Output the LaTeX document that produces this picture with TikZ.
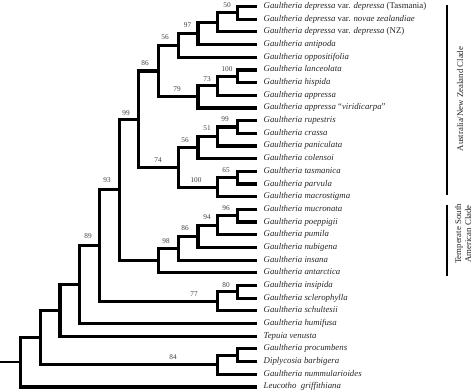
\documentclass[tikz,border=0pt]{standalone}
\usepackage{fontspec}
\setmainfont{Liberation Serif}
\newcommand{\lx}[1]{257-19.7*#1}
\newcommand{\ry}[1]{6.5+12.68*#1}
\begin{document}
\begin{tikzpicture}[x=1pt,y=-1pt,
  br/.style={line width=3.2pt, line join=miter},
  stubline/.style={line width=1.5pt},
  bar/.style={line width=2pt},
  taxon/.style={anchor=west, inner xsep=6.5pt, inner ysep=0pt, text height=6pt, text depth=2pt,
    font=\fontsize{8.8}{10}\selectfont\itshape, text=black!85},
  bs/.style={font=\fontsize{7.3}{8}\selectfont, text=black!75, inner sep=0pt},
  cladelab/.style={rotate=90, align=center, font=\fontsize{8.8}{10}\selectfont, text=black!85, inner sep=0pt}]
\useasboundingbox (0,0) rectangle (474,391);
% taxa
\node[taxon] (t0) at (257,{\ry{0}}) {Gaultheria depressa \textup{var.} depressa \textup{(Tasmania)}};
\node[taxon] (t1) at (257,{\ry{1}}) {Gaultheria depressa \textup{var.} novae zealandiae};
\node[taxon] (t2) at (257,{\ry{2}}) {Gaultheria depressa \textup{var.} depressa \textup{(NZ)}};
\node[taxon] (t3) at (257,{\ry{3}}) {Gaultheria antipoda};
\node[taxon] (t4) at (257,{\ry{4}}) {Gaultheria oppositifolia};
\node[taxon] (t5) at (257,{\ry{5}}) {Gaultheria lanceolata};
\node[taxon] (t6) at (257,{\ry{6}}) {Gaultheria hispida};
\node[taxon] (t7) at (257,{\ry{7}}) {Gaultheria appressa};
\node[taxon] (t8) at (257,{\ry{8}}) {Gaultheria appressa \textup{``}viridicarpa\textup{''}};
\node[taxon] (t9) at (257,{\ry{9}}) {Gaultheria rupestris};
\node[taxon] (t10) at (257,{\ry{10}}) {Gaultheria crassa};
\node[taxon] (t11) at (257,{\ry{11}}) {Gaultheria paniculata};
\node[taxon] (t12) at (257,{\ry{12}}) {Gaultheria colensoi};
\node[taxon] (t13) at (257,{\ry{13}}) {Gaultheria tasmanica};
\node[taxon] (t14) at (257,{\ry{14}}) {Gaultheria parvula};
\node[taxon] (t15) at (257,{\ry{15}}) {Gaultheria macrostigma};
\node[taxon] (t16) at (257,{\ry{16}}) {Gaultheria mucronata};
\node[taxon] (t17) at (257,{\ry{17}}) {Gaultheria poeppigii};
\node[taxon] (t18) at (257,{\ry{18}}) {Gaultheria pumila};
\node[taxon] (t19) at (257,{\ry{19}}) {Gaultheria nubigena};
\node[taxon] (t20) at (257,{\ry{20}}) {Gaultheria insana};
\node[taxon] (t21) at (257,{\ry{21}}) {Gaultheria antarctica};
\node[taxon] (t22) at (257,{\ry{22}}) {Gaultheria insipida};
\node[taxon] (t23) at (257,{\ry{23}}) {Gaultheria sclerophylla};
\node[taxon] (t24) at (257,{\ry{24}}) {Gaultheria schultesii};
\node[taxon] (t25) at (257,{\ry{25}}) {Gaultheria humifusa};
\node[taxon] (t26) at (257,{\ry{26}}) {Tepuia venusta};
\node[taxon] (t27) at (257,{\ry{27}}) {Gaultheria procumbens};
\node[taxon] (t28) at (257,{\ry{28}}) {Diplycosia barbigera};
\node[taxon] (t29) at (257,{\ry{29}}) {Gaultheria nummularioides};
\node[taxon] (t30) at (257,{\ry{30}}) {Leucotho\enspace griffithiana};
% internal nodes
\coordinate (A) at ({\lx{1}},{\ry{0.5}});
\coordinate (B) at ({\lx{2}},{\ry{1.25}});
\coordinate (C) at ({\lx{3}},{\ry{2.125}});
\coordinate (D) at ({\lx{4}},{\ry{3.0625}});
\coordinate (H) at ({\lx{1}},{\ry{5.5}});
\coordinate (G) at ({\lx{2}},{\ry{6.25}});
\coordinate (F) at ({\lx{3}},{\ry{7.125}});
\coordinate (E) at ({\lx{5}},{\ry{5.09375}});
\coordinate (I) at ({\lx{1}},{\ry{9.5}});
\coordinate (J) at ({\lx{2}},{\ry{10.25}});
\coordinate (K) at ({\lx{3}},{\ry{11.125}});
\coordinate (L) at ({\lx{1}},{\ry{13.5}});
\coordinate (M) at ({\lx{2}},{\ry{14.25}});
\coordinate (N) at ({\lx{4}},{\ry{12.6875}});
\coordinate (P) at ({\lx{6}},{\ry{8.890625}});
\coordinate (T) at ({\lx{1}},{\ry{16.5}});
\coordinate (U) at ({\lx{2}},{\ry{17.25}});
\coordinate (V) at ({\lx{3}},{\ry{18.125}});
\coordinate (W) at ({\lx{4}},{\ry{19.0625}});
\coordinate (X) at ({\lx{5}},{\ry{20.03125}});
\coordinate (Q) at ({\lx{7}},{\ry{14.4609375}});
\coordinate (Z) at ({\lx{1}},{\ry{22.5}});
\coordinate (Y) at ({\lx{2}},{\ry{23.25}});
\coordinate (R) at ({\lx{8}},{\ry{18.85546875}});
\coordinate (AA) at ({\lx{9}},{\ry{21.927734375}});
\coordinate (BB) at ({\lx{10}},{\ry{23.9638671875}});
\coordinate (EE) at ({\lx{1}},{\ry{27.5}});
\coordinate (DD) at ({\lx{2}},{\ry{28.25}});
\coordinate (CC) at ({\lx{11}},{\ry{26.10693359375}});
\coordinate (root) at ({\lx{12}},{\ry{28.053466796875}});
\coordinate (stub) at (0,{\ry{28.053466796875}});
% branches
\draw[br] (A) |- (t0.west); \draw[br] (A) |- (t1.west);
\draw[br] (B) |- (A); \draw[br] (B) |- (t2.west);
\draw[br] (C) |- (B); \draw[br] (C) |- (t3.west);
\draw[br] (D) |- (C); \draw[br] (D) |- (t4.west);
\draw[br] (H) |- (t5.west); \draw[br] (H) |- (t6.west);
\draw[br] (G) |- (H); \draw[br] (G) |- (t7.west);
\draw[br] (F) |- (G); \draw[br] (F) |- (t8.west);
\draw[br] (E) |- (D); \draw[br] (E) |- (F);
\draw[br] (I) |- (t9.west); \draw[br] (I) |- (t10.west);
\draw[br] (J) |- (I); \draw[br] (J) |- (t11.west);
\draw[br] (K) |- (J); \draw[br] (K) |- (t12.west);
\draw[br] (L) |- (t13.west); \draw[br] (L) |- (t14.west);
\draw[br] (M) |- (L); \draw[br] (M) |- (t15.west);
\draw[br] (N) |- (K); \draw[br] (N) |- (M);
\draw[br] (P) |- (E); \draw[br] (P) |- (N);
\draw[br] (T) |- (t16.west); \draw[br] (T) |- (t17.west);
\draw[br] (U) |- (T); \draw[br] (U) |- (t18.west);
\draw[br] (V) |- (U); \draw[br] (V) |- (t19.west);
\draw[br] (W) |- (V); \draw[br] (W) |- (t20.west);
\draw[br] (X) |- (W); \draw[br] (X) |- (t21.west);
\draw[br] (Q) |- (P); \draw[br] (Q) |- (X);
\draw[br] (Z) |- (t22.west); \draw[br] (Z) |- (t23.west);
\draw[br] (Y) |- (Z); \draw[br] (Y) |- (t24.west);
\draw[br] (R) |- (Q); \draw[br] (R) |- (Y);
\draw[br] (AA) |- (R); \draw[br] (AA) |- (t25.west);
\draw[br] (BB) |- (AA); \draw[br] (BB) |- (t26.west);
\draw[br] (EE) |- (t27.west); \draw[br] (EE) |- (t28.west);
\draw[br] (DD) |- (EE); \draw[br] (DD) |- (t29.west);
\draw[br] (CC) |- (BB); \draw[br] (CC) |- (DD);
\draw[br] (root) |- (CC); \draw[br] (root) |- (t30.west);
\draw[stubline] (stub) -- (root);
% support values
\node[bs] (sA) at (227,{\ry{0.5}-8}) {50};
\node[bs] (sC) at (187.5,{\ry{2.125}-8}) {97};
\node[bs] (sD) at (165,{\ry{3.0625}-8}) {56};
\node[bs] (sE) at (145,{\ry{5.09375}-8}) {86};
\node[bs] (sF) at (177,{\ry{7.125}-8}) {79};
\node[bs] (sG) at (207,{\ry{6.25}-7}) {73};
\node[bs] (sH) at (227,{\ry{5.5}-7}) {100};
\node[bs] (sI) at (225,{\ry{9.5}-8}) {99};
\node[bs] (sJ) at (207,{\ry{10.25}-8}) {51};
\node[bs] (sK) at (185,{\ry{11.125}-7.5}) {56};
\node[bs] (sL) at (226,{\ry{13.5}-7.5}) {65};
\node[bs] (sM) at (196,{\ry{14.25}-7.5}) {100};
\node[bs] (sN) at (158,{\ry{12.6875}-7}) {74};
\node[bs] (sP) at (126,{\ry{8.890625}-6.5}) {99};
\node[bs] (sQ) at (107,{\ry{14.4609375}-10}) {93};
\node[bs] (sT) at (226,{\ry{16.5}-7.5}) {96};
\node[bs] (sU) at (207,{\ry{17.25}-8}) {94};
\node[bs] (sV) at (185,{\ry{18.125}-8.5}) {86};
\node[bs] (sW) at (166,{\ry{19.0625}-7}) {98};
\node[bs] (sR) at (88,{\ry{18.85546875}-9}) {89};
\node[bs] (sZ) at (226,{\ry{22.5}-7}) {80};
\node[bs] (sY) at (194,{\ry{23.25}-7.5}) {77};
\node[bs] (sDD) at (173,{\ry{28.25}-7.5}) {84};
% clade bars
\coordinate (b1t) at (447,5); \coordinate (b1b) at (447,194.5);
\coordinate (b2t) at (447,204.5); \coordinate (b2b) at (447,276);
\draw[bar] (b1t) -- (b1b);
\draw[bar] (b2t) -- (b2b);
\node[cladelab] (c1) at (460,99) {Australia/New Zealand Clade};
\node[cladelab] (c2) at (463,234) {Temperate South\\American Clade};
\end{tikzpicture}
\end{document}
